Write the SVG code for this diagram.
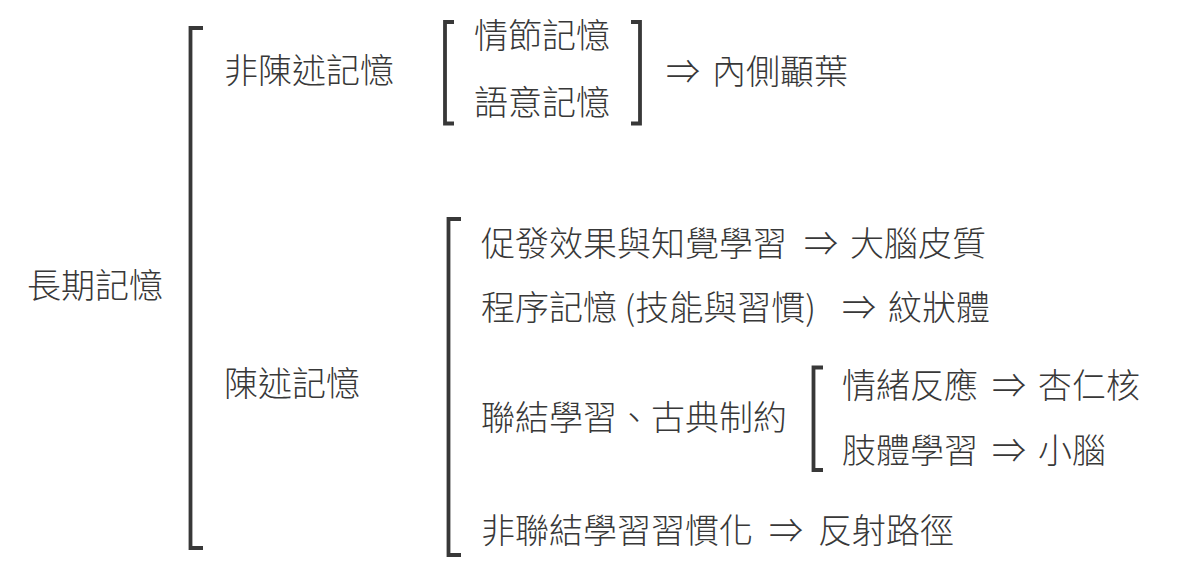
<svg xmlns="http://www.w3.org/2000/svg" width="1177" height="585" viewBox="0 0 1177 585">
<style>
text{font-family:"Noto Sans CJK TC","Noto Sans CJK SC",sans-serif;font-size:34px;font-weight:300;fill:#383838}
.ar{font-weight:200}
.br{fill:none;stroke:#383838;stroke-width:3.8;stroke-linejoin:miter;stroke-linecap:butt}
</style>
<rect width="1177" height="585" fill="#fff"/>
<g id="connectors">
<path class="br" d="M203,28 H190.5 V548 H203"/>
<path class="br" d="M454,22 H445 V123.5 H454"/>
<path class="br" d="M631,22 H640 V123.5 H631"/>
<path class="br" d="M461,219 H448.5 V555 H461"/>
<path class="br" d="M823,367.5 H813.5 V470 H823"/>
</g>
<g id="n-longterm"><text x="27" y="298">長期記憶</text></g>
<g id="n-nondecl"><text x="224" y="83">非陳述記憶</text></g>
<g id="n-episodic"><text x="474" y="48">情節記憶</text></g>
<g id="n-semantic"><text x="474" y="115">語意記憶</text></g>
<g id="n-mtl"><text y="84"><tspan class="ar" x="666">⇒ </tspan><tspan x="712">內側顳葉</tspan></text></g>
<g id="n-decl"><text x="224" y="396">陳述記憶</text></g>
<g id="n-priming"><text y="256"><tspan x="481">促發效果與知覺學習 </tspan><tspan class="ar" x="804">⇒ </tspan><tspan x="850">大腦皮質</tspan></text></g>
<g id="n-procedural"><text y="320"><tspan x="481">程序記憶 (技能與習慣) </tspan><tspan class="ar" x="842">⇒ </tspan><tspan x="888">紋狀體</tspan></text></g>
<g id="n-assoc"><text x="481" y="430">聯結學習、古典制約</text></g>
<g id="n-emotion"><text y="398"><tspan x="842">情緒反應 </tspan><tspan class="ar" x="992">⇒ </tspan><tspan x="1038">杏仁核</tspan></text></g>
<g id="n-motor"><text y="463"><tspan x="842">肢體學習 </tspan><tspan class="ar" x="992">⇒ </tspan><tspan x="1038">小腦</tspan></text></g>
<g id="n-nonassoc"><text y="543"><tspan x="481">非聯結學習習慣化 </tspan><tspan class="ar" x="769">⇒ </tspan><tspan x="818">反射路徑</tspan></text></g>
</svg>
